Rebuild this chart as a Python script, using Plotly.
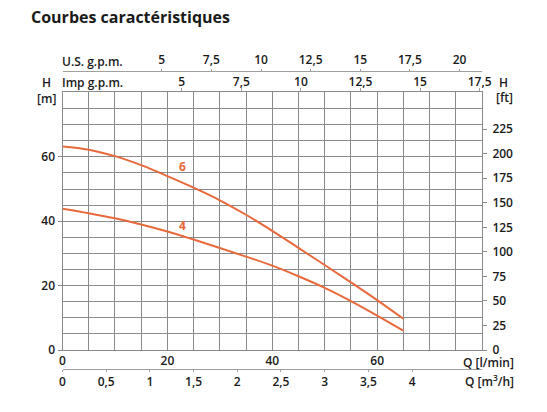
import plotly.graph_objects as go

# ---- data ----
q_lmin = [0, 5, 10, 15, 20, 25, 30, 35, 40, 45, 50, 55, 60, 65]
h_curve6 = [63.2, 62.2, 60.2, 57.4, 54.0, 50.4, 46.5, 42.0, 37.0, 31.7, 26.4, 21.0, 15.5, 9.7]
h_curve4 = [43.9, 42.5, 40.9, 39.0, 36.8, 34.3, 31.7, 29.0, 26.2, 22.9, 19.3, 15.2, 10.7, 6.0]
curve_names = ["6", "4"]
label_pos = [(22.8, 56.9), (22.8, 38.8)]

h_m_ticks = [0, 20, 40, 60]
h_ft_ticks = [0, 25, 50, 75, 100, 125, 150, 175, 200, 225]
q_lmin_ticks = [0, 20, 40, 60]
q_m3h_ticks = [0, 0.5, 1, 1.5, 2, 2.5, 3, 3.5, 4]
us_gpm_ticks = [5, 7.5, 10, 12.5, 15, 17.5, 20]
imp_gpm_ticks = [5, 7.5, 10, 12.5, 15, 17.5]

Q_MAX = 80.0
H_MAX = 80.0
US_GAL = 3.78541
IMP_GAL = 4.54609
FT = 0.3048


def fmt(v):
    s = ("%g" % v)
    return s.replace(".", ",")


W, Hh = 547, 412
x0, x1 = 62.5, 482
y_top, y_bot = 92.4, 350
xd = [x0 / W, x1 / W]
yd = [(Hh - y_bot) / Hh, (Hh - y_top) / Hh]

orange = "#E8693C"
grid = "#8a8a8a"
tickc = "#a0a0a0"
txt = "#1a1a1a"
font_family = "Open Sans"
fw = 600

fig = go.Figure()
fig.add_trace(go.Scatter(x=q_lmin, y=h_curve6, mode="lines", line=dict(color=orange, width=2, shape="spline"),
                         showlegend=False, hoverinfo="skip", xaxis="x", yaxis="y"))
fig.add_trace(go.Scatter(x=q_lmin, y=h_curve4, mode="lines", line=dict(color=orange, width=2, shape="spline"),
                         showlegend=False, hoverinfo="skip", xaxis="x", yaxis="y"))
# invisible traces so the secondary axes are drawn
for ax, rng in [("x2", Q_MAX / IMP_GAL), ("x3", Q_MAX / US_GAL), ("x4", Q_MAX * 60 / 1000)]:
    fig.add_trace(go.Scatter(x=[0, rng], y=[0, 0], mode="markers", marker=dict(opacity=0),
                             showlegend=False, hoverinfo="skip", xaxis=ax, yaxis="y"))
fig.add_trace(go.Scatter(x=[0, 0], y=[0, H_MAX / FT], mode="markers", marker=dict(opacity=0),
                         showlegend=False, hoverinfo="skip", xaxis="x", yaxis="y2"))

tickfont = dict(family=font_family, size=12, color=txt, weight=fw)

fig.update_layout(
    template="none",
    width=W, height=Hh, autosize=False,
    margin=dict(l=0, r=0, t=0, b=0, pad=0),
    paper_bgcolor="white", plot_bgcolor="white",
    showlegend=False,
    xaxis=dict(domain=xd, range=[0, Q_MAX], tickvals=q_lmin_ticks, ticktext=[fmt(v) for v in q_lmin_ticks],
               ticks="", showgrid=True, gridcolor=grid, gridwidth=1,
               minor=dict(dtick=5, tick0=0, showgrid=True, gridcolor=grid, gridwidth=1, ticks=""),
               showline=True, linecolor=grid, linewidth=1, mirror=True, zeroline=False,
               tickfont=tickfont, anchor="y", fixedrange=True, automargin=False),
    yaxis=dict(domain=yd, range=[0, H_MAX], tickvals=h_m_ticks, ticktext=[fmt(v) for v in h_m_ticks],
               ticks="outside", ticklen=4, tickcolor=grid, showgrid=True, gridcolor=grid, gridwidth=1,
               minor=dict(dtick=5, tick0=0, showgrid=True, gridcolor=grid, gridwidth=1, ticks=""),
               showline=True, linecolor=grid, linewidth=1, mirror=True, zeroline=False,
               tickfont=tickfont, anchor="x", fixedrange=True, automargin=False),
    yaxis2=dict(overlaying="y", side="right", anchor="x", range=[0, H_MAX / FT],
                tickvals=h_ft_ticks, ticktext=[fmt(v) for v in h_ft_ticks],
                ticks="outside", ticklen=4, tickcolor=grid, showgrid=False, zeroline=False,
                showline=False, tickfont=tickfont, fixedrange=True, automargin=False,
                ticklabelstandoff=3),
    xaxis2=dict(overlaying="x", side="top", anchor="y", range=[0, Q_MAX / IMP_GAL],
                tickvals=imp_gpm_ticks, ticktext=[fmt(v) for v in imp_gpm_ticks],
                ticks="outside", ticklen=3, tickcolor=tickc, showgrid=False, zeroline=False,
                showline=False, tickfont=tickfont, fixedrange=True, automargin=False,
                ticklabelstandoff=-2),
    xaxis3=dict(overlaying="x", side="top", anchor="free", position=(Hh - 71) / Hh,
                range=[0, Q_MAX / US_GAL],
                tickvals=us_gpm_ticks, ticktext=[fmt(v) for v in us_gpm_ticks],
                ticks="outside", ticklen=2, tickcolor=tickc, showgrid=False, zeroline=False,
                showline=True, linecolor=tickc, linewidth=1, tickfont=tickfont, fixedrange=True,
                automargin=False),
    xaxis4=dict(overlaying="x", side="bottom", anchor="free", position=(Hh - 369) / Hh,
                range=[0, Q_MAX * 60 / 1000],
                tickvals=q_m3h_ticks, ticktext=[fmt(v) for v in q_m3h_ticks],
                ticks="outside", ticklen=2, tickcolor=tickc, showgrid=False, zeroline=False,
                showline=True, linecolor=tickc, linewidth=1, tickfont=tickfont, fixedrange=True,
                automargin=False),
)


def ann(text, x, y, xanchor="center", size=12, bold=False, color=txt, family=font_family, weight=fw):
    fig.add_annotation(text=("<b>%s</b>" % text) if bold else text, x=x / W, y=(Hh - y) / Hh,
                       xref="paper", yref="paper", xanchor=xanchor, yanchor="middle", showarrow=False,
                       font=dict(family=family, size=size, color=color, weight=weight))


ann("Courbes caractéristiques", 29, 17, xanchor="left", size=16, bold=True, weight="bold")
ann("U.S. g.p.m.", 60, 61, xanchor="left")
ann("Imp g.p.m.", 60, 82, xanchor="left")
ann("H", 46.5, 82)
ann("[m]", 46, 98)
ann("H", 503.5, 82)
ann("[ft]", 504, 97)
ann("Q [l/min]", 516, 362, xanchor="right")
ann("Q [m<sup>3</sup>/h]", 516, 381, xanchor="right")

for name, (qx, hy) in zip(curve_names, label_pos):
    fig.add_annotation(text="<b>%s</b>" % name, x=qx, y=hy, xref="x", yref="y", showarrow=False,
                       font=dict(family=font_family, size=12, color=orange))

fig.write_html("out.html")
